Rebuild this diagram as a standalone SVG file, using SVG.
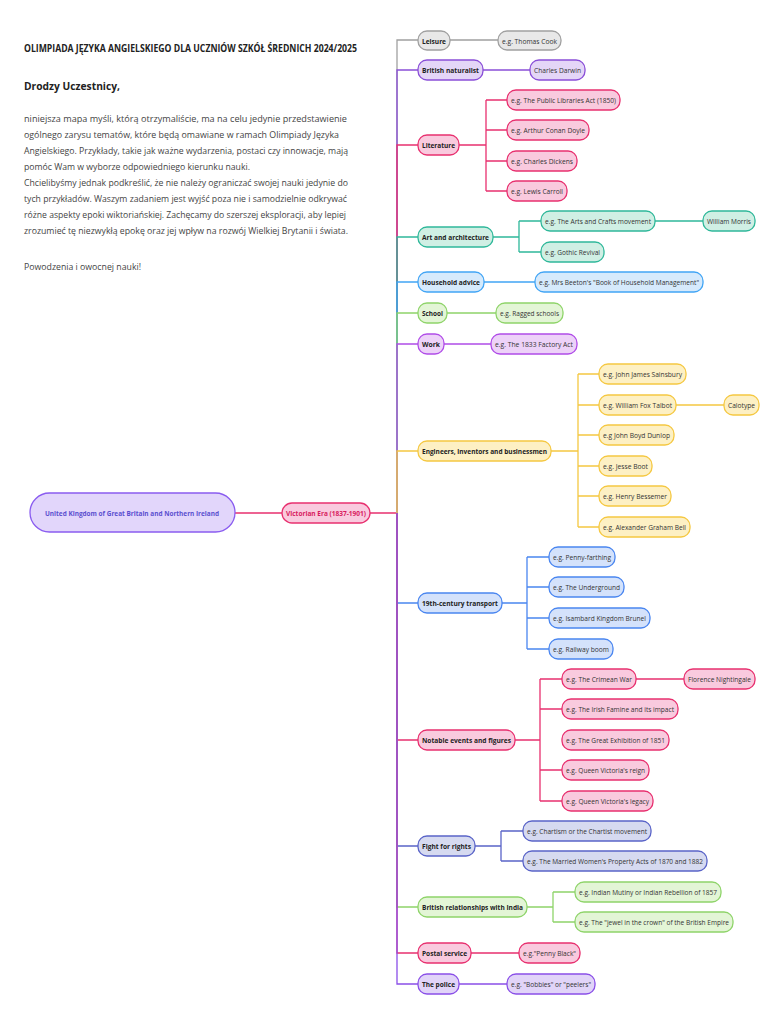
<svg xmlns="http://www.w3.org/2000/svg" width="768" height="1024" viewBox="0 0 768 1024">
<style>
text{font-family:"Open Sans","Liberation Sans",sans-serif}
.n{font-size:7.5px;fill:#333;text-anchor:middle;dominant-baseline:central}
.b{font-weight:bold;fill:#222}
.p{font-size:9.5px;fill:#444}
.c{fill:none;stroke-width:1.3}
rect{stroke-width:1.3}
.gy rect{fill:#e8e8e8;stroke:#a0a0a0}.gy.c{stroke:#a0a0a0}
.pu rect{fill:#e4d6f7;stroke:#8a4fd8}.pu.c{stroke:#8a4fd8}
.pk rect{fill:#f9cade;stroke:#e8306f}.pk.c{stroke:#e8306f}
.tl rect{fill:#d0efe4;stroke:#2fb89a}.tl.c{stroke:#2fb89a}
.bl rect{fill:#d6eafc;stroke:#42a5f5}.bl.c{stroke:#42a5f5}
.gr rect{fill:#e3f5d6;stroke:#8fd46a}.gr.c{stroke:#8fd46a}
.vi rect{fill:#edd2f8;stroke:#b04ce8}.vi.c{stroke:#b04ce8}
.ye rect{fill:#fdf0c4;stroke:#f5c842}.ye.c{stroke:#f5c842}
.tb rect{fill:#d4e2fb;stroke:#4a86f0}.tb.c{stroke:#4a86f0}
.fr rect{fill:#d6daf0;stroke:#5a64c8}.fr.c{stroke:#5a64c8}
.po rect{fill:#e1d4f8;stroke:#8a4fe8}.po.c{stroke:#8a4fe8}
</style>
<rect width="768" height="1024" fill="#fff" style="stroke:none"/>
<g id="intro">
<text x="24" y="52" font-size="10" font-weight="bold" fill="#222" textLength="333" lengthAdjust="spacingAndGlyphs">OLIMPIADA JĘZYKA ANGIELSKIEGO DLA UCZNIÓW SZKÓŁ ŚREDNICH 2024/2025</text>
<text x="24" y="90" font-size="10" font-weight="bold" fill="#222" textLength="96" lengthAdjust="spacingAndGlyphs">Drodzy Uczestnicy,</text>
<text class="p" x="24" y="122" textLength="323" lengthAdjust="spacingAndGlyphs">niniejsza mapa myśli, którą otrzymaliście, ma na celu jedynie przedstawienie</text>
<text class="p" x="24" y="138" textLength="315" lengthAdjust="spacingAndGlyphs">ogólnego zarysu tematów, które będą omawiane w ramach Olimpiady Języka</text>
<text class="p" x="24" y="154" textLength="324" lengthAdjust="spacingAndGlyphs">Angielskiego. Przykłady, takie jak ważne wydarzenia, postaci czy innowacje, mają</text>
<text class="p" x="24" y="170" textLength="226" lengthAdjust="spacingAndGlyphs">pomóc Wam w wyborze odpowiedniego kierunku nauki.</text>
<text class="p" x="24" y="186" textLength="324" lengthAdjust="spacingAndGlyphs">Chcielibyśmy jednak podkreślić, że nie należy ograniczać swojej nauki jedynie do</text>
<text class="p" x="24" y="202" textLength="323" lengthAdjust="spacingAndGlyphs">tych przykładów. Waszym zadaniem jest wyjść poza nie i samodzielnie odkrywać</text>
<text class="p" x="24" y="218" textLength="322" lengthAdjust="spacingAndGlyphs">różne aspekty epoki wiktoriańskiej. Zachęcamy do szerszej eksploracji, aby lepiej</text>
<text class="p" x="24" y="234" textLength="324" lengthAdjust="spacingAndGlyphs">zrozumieć tę niezwykłą epokę oraz jej wpływ na rozwój Wielkiej Brytanii i świata.</text>
<text class="p" x="24" y="270" textLength="117" lengthAdjust="spacingAndGlyphs">Powodzenia i owocnej nauki!</text>
</g>
<g id="connectors">
<path class="pk c" d="M235,513H282M370,513H397"/>
<path class="gy c" d="M397,513V40H418M450,40H498"/>
<path class="pu c" d="M397,513V70H418M483,70H530"/>
<path class="pk c" d="M397,513V145H418M459,145H486M486,100V191M486,100H507M486,130H507M486,161H507M486,191H507"/>
<path class="tl c" d="M397,513V237H418M493,237H519M519,221V252M519,221H541M519,252H541M655,221H703"/>
<path class="bl c" d="M397,513V282H418M484,282H535"/>
<path class="gr c" d="M397,513V313H418M447,313H496"/>
<path class="vi c" d="M397,513V344H418M444,344H491"/>
<path class="ye c" d="M397,513V451H418M551,451H578M578,374V527M578,374H599M578,405H599M578,435H599M578,466H599M578,496H599M578,527H599M676,405H724"/>
<path class="tb c" d="M397,513V603H418M502,603H527M527,557V649M527,557H549M527,587H549M527,618H549M527,649H549"/>
<path class="pk c" d="M397,513V740H418M515,740H540M540,679V801M540,679H562M540,709H562M540,770H562M540,801H562M636,679H684"/>
<path class="fr c" d="M397,513V846H418M475,846H501M501,831V861M501,831H523M501,861H523"/>
<path class="gr c" d="M397,513V907H418M527,907H553M553,892V922M553,892H575M553,922H575"/>
<path class="pk c" d="M397,513V953H418M471,953H519"/>
<path class="po c" d="M397,513V984H418M459,984H507"/>
</g>
<g id="root"><rect x="30" y="493" width="205" height="39" rx="19.5" fill="#e2d6fb" stroke="#8a5cf0"/><text class="n" x="132" y="512.5" font-weight="bold" fill="#5a4fcf" style="fill:#5a4fcf" textLength="174" lengthAdjust="spacingAndGlyphs">United Kingdom of Great Britain and Northern Ireland</text></g>
<g id="victorian" class="pk"><rect x="282" y="503" width="88" height="20" rx="10"/><text class="n b" x="326" y="513" style="fill:#d81b60" textLength="80" lengthAdjust="spacingAndGlyphs">Victorian Era (1837-1901)</text></g>
<g id="leisure" class="gy"><rect x="418" y="31" width="32" height="19" rx="9"/><text class="n b" x="434" y="40.5" textLength="24" lengthAdjust="spacingAndGlyphs">Leisure</text></g>
<g id="thomas-cook" class="gy"><rect x="498" y="31" width="63" height="19" rx="9"/><text class="n" x="529.5" y="40.5" textLength="55" lengthAdjust="spacingAndGlyphs">e.g. Thomas Cook</text></g>
<g id="naturalist" class="pu"><rect x="418" y="60" width="65" height="20" rx="9"/><text class="n b" x="450.5" y="70" textLength="57" lengthAdjust="spacingAndGlyphs">British naturalist</text></g>
<g id="darwin" class="pu"><rect x="530" y="60" width="55" height="20" rx="9"/><text class="n" x="557.5" y="70" textLength="47" lengthAdjust="spacingAndGlyphs">Charles Darwin</text></g>
<g id="literature" class="pk"><rect x="418" y="135" width="41" height="20" rx="9"/><text class="n b" x="438.5" y="145" textLength="33" lengthAdjust="spacingAndGlyphs">Literature</text></g>
<g id="libraries" class="pk"><rect x="507" y="90" width="113" height="20" rx="9"/><text class="n" x="563.5" y="100" textLength="105" lengthAdjust="spacingAndGlyphs">e.g. The Public Libraries Act (1850)</text></g>
<g id="doyle" class="pk"><rect x="507" y="120" width="82" height="20" rx="9"/><text class="n" x="548" y="130" textLength="74" lengthAdjust="spacingAndGlyphs">e.g. Arthur Conan Doyle</text></g>
<g id="dickens" class="pk"><rect x="507" y="151" width="70" height="20" rx="9"/><text class="n" x="542" y="161" textLength="62" lengthAdjust="spacingAndGlyphs">e.g. Charles Dickens</text></g>
<g id="carroll" class="pk"><rect x="507" y="181" width="60" height="20" rx="9"/><text class="n" x="537" y="191" textLength="52" lengthAdjust="spacingAndGlyphs">e.g. Lewis Carroll</text></g>
<g id="art" class="tl"><rect x="418" y="227" width="75" height="20" rx="9"/><text class="n b" x="455.5" y="237" textLength="67" lengthAdjust="spacingAndGlyphs">Art and architecture</text></g>
<g id="arts-crafts" class="tl"><rect x="541" y="211" width="114" height="20" rx="9"/><text class="n" x="598" y="221" textLength="106" lengthAdjust="spacingAndGlyphs">e.g. The Arts and Crafts movement</text></g>
<g id="morris" class="tl"><rect x="703" y="211" width="52" height="20" rx="9"/><text class="n" x="729" y="221" textLength="44" lengthAdjust="spacingAndGlyphs">William Morris</text></g>
<g id="gothic" class="tl"><rect x="541" y="242" width="63" height="20" rx="9"/><text class="n" x="572.5" y="252" textLength="55" lengthAdjust="spacingAndGlyphs">e.g. Gothic Revival</text></g>
<g id="household" class="bl"><rect x="418" y="272" width="66" height="20" rx="9"/><text class="n b" x="451" y="282" textLength="58" lengthAdjust="spacingAndGlyphs">Household advice</text></g>
<g id="beeton" class="bl"><rect x="535" y="272" width="168" height="20" rx="9"/><text class="n" x="619" y="282" textLength="160" lengthAdjust="spacingAndGlyphs">e.g. Mrs Beeton's "Book of Household Management"</text></g>
<g id="school" class="gr"><rect x="418" y="303" width="29" height="20" rx="9"/><text class="n b" x="432.5" y="313" textLength="21" lengthAdjust="spacingAndGlyphs">School</text></g>
<g id="ragged" class="gr"><rect x="496" y="303" width="67" height="20" rx="9"/><text class="n" x="529.5" y="313" textLength="59" lengthAdjust="spacingAndGlyphs">e.g. Ragged schools</text></g>
<g id="work" class="vi"><rect x="418" y="334" width="26" height="20" rx="9"/><text class="n b" x="431" y="344" textLength="18" lengthAdjust="spacingAndGlyphs">Work</text></g>
<g id="factory" class="vi"><rect x="491" y="334" width="86" height="20" rx="9"/><text class="n" x="534" y="344" textLength="78" lengthAdjust="spacingAndGlyphs">e.g. The 1833 Factory Act</text></g>
<g id="engineers" class="ye"><rect x="418" y="441" width="133" height="20" rx="9"/><text class="n b" x="484.5" y="451" textLength="125" lengthAdjust="spacingAndGlyphs">Engineers, inventors and businessmen</text></g>
<g id="sainsbury" class="ye"><rect x="599" y="364" width="87" height="20" rx="9"/><text class="n" x="642.5" y="374" textLength="79" lengthAdjust="spacingAndGlyphs">e.g. John James Sainsbury</text></g>
<g id="talbot" class="ye"><rect x="599" y="395" width="77" height="20" rx="9"/><text class="n" x="637.5" y="405" textLength="69" lengthAdjust="spacingAndGlyphs">e.g. William Fox Talbot</text></g>
<g id="calotype" class="ye"><rect x="724" y="395" width="35" height="20" rx="9"/><text class="n" x="741.5" y="405" textLength="27" lengthAdjust="spacingAndGlyphs">Calotype</text></g>
<g id="dunlop" class="ye"><rect x="599" y="425" width="75" height="20" rx="9"/><text class="n" x="636.5" y="435" textLength="67" lengthAdjust="spacingAndGlyphs">e.g John Boyd Dunlop</text></g>
<g id="boot" class="ye"><rect x="599" y="456" width="53" height="20" rx="9"/><text class="n" x="625.5" y="466" textLength="45" lengthAdjust="spacingAndGlyphs">e.g. Jesse Boot</text></g>
<g id="bessemer" class="ye"><rect x="599" y="486" width="72" height="20" rx="9"/><text class="n" x="635" y="496" textLength="64" lengthAdjust="spacingAndGlyphs">e.g. Henry Bessemer</text></g>
<g id="bell" class="ye"><rect x="599" y="517" width="91" height="20" rx="9"/><text class="n" x="644.5" y="527" textLength="83" lengthAdjust="spacingAndGlyphs">e.g. Alexander Graham Bell</text></g>
<g id="transport" class="tb"><rect x="418" y="593" width="84" height="20" rx="9"/><text class="n b" x="460" y="603" textLength="76" lengthAdjust="spacingAndGlyphs">19th-century transport</text></g>
<g id="penny-farthing" class="tb"><rect x="549" y="547" width="66" height="20" rx="9"/><text class="n" x="582" y="557" textLength="58" lengthAdjust="spacingAndGlyphs">e.g. Penny-farthing</text></g>
<g id="underground" class="tb"><rect x="549" y="577" width="75" height="20" rx="9"/><text class="n" x="586.5" y="587" textLength="67" lengthAdjust="spacingAndGlyphs">e.g. The Underground</text></g>
<g id="brunel" class="tb"><rect x="549" y="608" width="101" height="20" rx="9"/><text class="n" x="599.5" y="618" textLength="93" lengthAdjust="spacingAndGlyphs">e.g. Isambard Kingdom Brunel</text></g>
<g id="railway" class="tb"><rect x="549" y="639" width="64" height="20" rx="9"/><text class="n" x="581" y="649" textLength="56" lengthAdjust="spacingAndGlyphs">e.g. Railway boom</text></g>
<g id="notable" class="pk"><rect x="418" y="730" width="97" height="20" rx="9"/><text class="n b" x="466.5" y="740" textLength="89" lengthAdjust="spacingAndGlyphs">Notable events and figures</text></g>
<g id="crimean" class="pk"><rect x="562" y="669" width="74" height="20" rx="9"/><text class="n" x="599" y="679" textLength="66" lengthAdjust="spacingAndGlyphs">e.g. The Crimean War</text></g>
<g id="nightingale" class="pk"><rect x="684" y="669" width="71" height="20" rx="9"/><text class="n" x="719.5" y="679" textLength="63" lengthAdjust="spacingAndGlyphs">Florence Nightingale</text></g>
<g id="famine" class="pk"><rect x="562" y="699" width="116" height="20" rx="9"/><text class="n" x="620" y="709" textLength="108" lengthAdjust="spacingAndGlyphs">e.g. The Irish Famine and its impact</text></g>
<g id="exhibition" class="pk"><rect x="562" y="730" width="107" height="20" rx="9"/><text class="n" x="615.5" y="740" textLength="99" lengthAdjust="spacingAndGlyphs">e.g. The Great Exhibition of 1851</text></g>
<g id="reign" class="pk"><rect x="562" y="760" width="87" height="20" rx="9"/><text class="n" x="605.5" y="770" textLength="79" lengthAdjust="spacingAndGlyphs">e.g. Queen Victoria's reign</text></g>
<g id="legacy" class="pk"><rect x="562" y="791" width="91" height="20" rx="9"/><text class="n" x="607.5" y="801" textLength="83" lengthAdjust="spacingAndGlyphs">e.g. Queen Victoria's legacy</text></g>
<g id="fight" class="fr"><rect x="418" y="836" width="57" height="20" rx="9"/><text class="n b" x="446.5" y="846" textLength="49" lengthAdjust="spacingAndGlyphs">Fight for rights</text></g>
<g id="chartism" class="fr"><rect x="523" y="821" width="128" height="20" rx="9"/><text class="n" x="587" y="831" textLength="120" lengthAdjust="spacingAndGlyphs">e.g. Chartism or the Chartist movement</text></g>
<g id="married" class="fr"><rect x="523" y="851" width="184" height="20" rx="9"/><text class="n" x="615" y="861" textLength="176" lengthAdjust="spacingAndGlyphs">e.g. The Married Women's Property Acts of 1870 and 1882</text></g>
<g id="india" class="gr"><rect x="418" y="897" width="109" height="20" rx="9"/><text class="n b" x="472.5" y="907" textLength="101" lengthAdjust="spacingAndGlyphs">British relationships with India</text></g>
<g id="mutiny" class="gr"><rect x="575" y="882" width="146" height="20" rx="9"/><text class="n" x="648" y="892" textLength="138" lengthAdjust="spacingAndGlyphs">e.g. Indian Mutiny or Indian Rebellion of 1857</text></g>
<g id="jewel" class="gr"><rect x="575" y="912" width="158" height="20" rx="9"/><text class="n" x="654" y="922" textLength="150" lengthAdjust="spacingAndGlyphs">e.g. The "jewel in the crown" of the British Empire</text></g>
<g id="postal" class="pk"><rect x="418" y="943" width="53" height="20" rx="9"/><text class="n b" x="444.5" y="953" textLength="45" lengthAdjust="spacingAndGlyphs">Postal service</text></g>
<g id="penny-black" class="pk"><rect x="519" y="943" width="61" height="20" rx="9"/><text class="n" x="549.5" y="953" textLength="53" lengthAdjust="spacingAndGlyphs">e.g."Penny Black"</text></g>
<g id="police" class="po"><rect x="418" y="974" width="41" height="20" rx="9"/><text class="n b" x="438.5" y="984" textLength="33" lengthAdjust="spacingAndGlyphs">The police</text></g>
<g id="bobbies" class="po"><rect x="507" y="974" width="88" height="20" rx="9"/><text class="n" x="551" y="984" textLength="80" lengthAdjust="spacingAndGlyphs">e.g. "Bobbies" or "peelers"</text></g>
</svg>
